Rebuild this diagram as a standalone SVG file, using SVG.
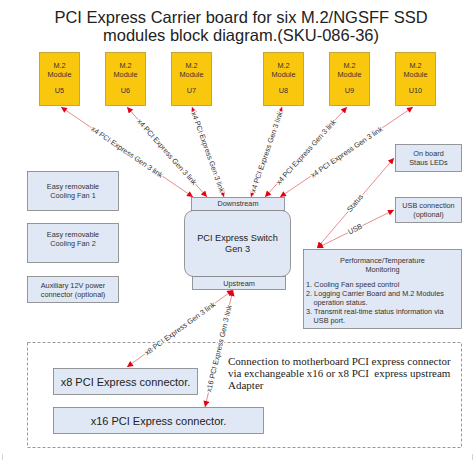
<svg xmlns="http://www.w3.org/2000/svg" width="474" height="460" viewBox="0 0 474 460">
<defs>
<style>
.t{font-family:"Liberation Sans",Arial,sans-serif;fill:#222;text-anchor:middle}
.m2{fill:#f9c80e;stroke:#b8962a;stroke-width:0.8}
.bx{fill:#e1e8f5;stroke:#7f7f7f;stroke-width:0.8}
.mt{font-size:7.3px;fill:#333}
.lk{stroke:#e07070;stroke-width:0.8;fill:none;marker-start:url(#ah);marker-end:url(#ah)}
.lb{font-family:"Liberation Sans",Arial,sans-serif;font-size:7.3px;fill:#333;text-anchor:middle;stroke:#fff;stroke-width:2.5;paint-order:stroke;stroke-linejoin:round}
</style>
<marker id="ah" viewBox="0 0 10 10" refX="10" refY="5" markerWidth="7" markerHeight="6" orient="auto-start-reverse" markerUnits="userSpaceOnUse">
<path d="M0,0 L10,5 L0,10 z" fill="#e3000f"/>
</marker>
</defs>
<rect width="474" height="460" fill="#fff"/>
<g id="title">
<text class="t" x="241" y="23" font-size="16.5">PCI Express Carrier board for six M.2/NGSFF SSD</text>
<text class="t" x="241" y="41" font-size="16.5">modules block diagram.(SKU-086-36)</text>
</g>
<g id="U5"><rect class="m2" x="39.5" y="52.5" width="40" height="53"/><text class="t mt" x="59.5" y="68">M.2</text><text class="t mt" x="59.5" y="77">Module</text><text class="t mt" x="59.5" y="93">U5</text></g>
<g id="U6"><rect class="m2" x="105.5" y="52.5" width="40" height="53"/><text class="t mt" x="125.5" y="68">M.2</text><text class="t mt" x="125.5" y="77">Module</text><text class="t mt" x="125.5" y="93">U6</text></g>
<g id="U7"><rect class="m2" x="171.5" y="52.5" width="40" height="53"/><text class="t mt" x="191.5" y="68">M.2</text><text class="t mt" x="191.5" y="77">Module</text><text class="t mt" x="191.5" y="93">U7</text></g>
<g id="U8"><rect class="m2" x="263.5" y="52.5" width="40" height="53"/><text class="t mt" x="283.5" y="68">M.2</text><text class="t mt" x="283.5" y="77">Module</text><text class="t mt" x="283.5" y="93">U8</text></g>
<g id="U9"><rect class="m2" x="329.5" y="52.5" width="40" height="53"/><text class="t mt" x="349.5" y="68">M.2</text><text class="t mt" x="349.5" y="77">Module</text><text class="t mt" x="349.5" y="93">U9</text></g>
<g id="U10"><rect class="m2" x="395.5" y="52.5" width="40" height="53"/><text class="t mt" x="415.5" y="68">M.2</text><text class="t mt" x="415.5" y="77">Module</text><text class="t mt" x="415.5" y="93">U10</text></g>
<g id="fan1"><rect class="bx" x="27.5" y="171.5" width="91" height="39"/><text class="t mt" x="73" y="189">Easy removable</text><text class="t mt" x="73" y="197.5">Cooling Fan 1</text></g>
<g id="fan2"><rect class="bx" x="27.5" y="223.5" width="91" height="39"/><text class="t mt" x="73" y="237">Easy removable</text><text class="t mt" x="73" y="245.5">Cooling Fan 2</text></g>
<g id="aux"><rect class="bx" x="27.5" y="276.5" width="91" height="26"/><text class="t mt" x="73" y="288">Auxiliary 12V power</text><text class="t mt" x="73" y="296.5">connector (optional)</text></g>
<g id="switch">
<rect class="bx" x="191.5" y="197.5" width="93" height="13"/>
<text class="t mt" x="238" y="206">Downstream</text>
<rect class="bx" x="192.5" y="276.5" width="93" height="13"/>
<text class="t mt" x="239" y="285.5">Upstream</text>
<rect class="bx" x="184.5" y="210.5" width="106" height="66" rx="9"/>
<text class="t" x="237.5" y="241" font-size="9.2">PCI Express Switch</text>
<text class="t" x="237.5" y="252" font-size="9.2">Gen 3</text>
</g>
<g id="leds"><rect class="bx" x="395.5" y="144.5" width="66" height="27"/><text class="t mt" x="428.5" y="156">On board</text><text class="t mt" x="428.5" y="164.5">Staus LEDs</text></g>
<g id="usb"><rect class="bx" x="395.5" y="197.5" width="66" height="25"/><text class="t mt" x="428.5" y="208">USB connection</text><text class="t mt" x="428.5" y="216.5">(optional)</text></g>
<g id="monitor">
<rect class="bx" x="303.5" y="249.5" width="158" height="79"/>
<text class="t mt" x="382.5" y="262.5">Performance/Temperature</text>
<text class="t mt" x="382.5" y="271.5">Monitoring</text>
<text class="t mt" x="306" y="286.5" style="text-anchor:start">1. Cooling Fan speed control</text>
<text class="t mt" x="306" y="295.5" style="text-anchor:start">2. Logging Carrier Board and M.2 Modules</text>
<text class="t mt" x="313.5" y="304.5" style="text-anchor:start">operation status.</text>
<text class="t mt" x="306" y="313.5" style="text-anchor:start">3. Transmit real-time status information via</text>
<text class="t mt" x="313.5" y="322.5" style="text-anchor:start">USB port.</text>
</g>
<g id="adapter">
<rect x="27.5" y="342.5" width="434" height="105" fill="none" stroke="#808080" stroke-width="0.8" stroke-dasharray="3,2"/>
<text x="228" y="365" font-family="'Liberation Serif','Times New Roman',serif" font-size="11" fill="#222">Connection to motherboard PCI express connector</text>
<text x="228" y="377" font-family="'Liberation Serif','Times New Roman',serif" font-size="11" fill="#222" xml:space="preserve">via exchangeable x16 or x8 PCI  express upstream</text>
<text x="228" y="389" font-family="'Liberation Serif','Times New Roman',serif" font-size="11" fill="#222">Adapter</text>
</g>
<g id="x8"><rect class="bx" x="53.5" y="368.5" width="144" height="26"/><text class="t" x="125.5" y="385.5" font-size="11">x8 PCI Express connector.</text></g>
<g id="x16"><rect class="bx" x="53.5" y="407.5" width="210" height="26"/><text class="t" x="158.5" y="424.5" font-size="11">x16 PCI Express connector.</text></g>
<g id="connectors">
<line class="lk" x1="61" y1="107" x2="193" y2="197"/>
<line class="lk" x1="127" y1="107" x2="207" y2="197"/>
<line class="lk" x1="192" y1="107" x2="224" y2="197"/>
<line class="lk" x1="282" y1="107" x2="251" y2="197"/>
<line class="lk" x1="347" y1="107" x2="265" y2="197"/>
<line class="lk" x1="413" y1="107" x2="280" y2="197"/>
<line class="lk" x1="233" y1="290" x2="127" y2="367"/>
<line class="lk" x1="233" y1="290" x2="205" y2="407"/>
<line class="lk" x1="317" y1="248" x2="394" y2="158"/>
<line class="lk" x1="317" y1="248" x2="394" y2="210"/>
<text class="lb" transform="translate(127,152) rotate(34.3)" y="2.5">x4 PCI Express Gen 3 link</text>
<text class="lb" transform="translate(167,152) rotate(48.4)" y="2.5">x4 PCI Express Gen 3 link</text>
<text class="lb" transform="translate(208,152) rotate(70.4)" y="2.5">x4 PCI Express Gen 3 link</text>
<text class="lb" transform="translate(266.5,152) rotate(-71)" y="2.5">x4 PCI Express Gen 3 link</text>
<text class="lb" transform="translate(306,152) rotate(-47.7)" y="2.5">x4 PCI Express Gen 3 link</text>
<text class="lb" transform="translate(346.5,152) rotate(-34.1)" y="2.5">x4 PCI Express Gen 3 link</text>
<text class="lb" transform="translate(180,328.5) rotate(-36)" y="2.5">x8 PCI Express Gen 3 link</text>
<text class="lb" transform="translate(219,348.5) rotate(-76.5)" y="2.5">x16 PCI Express Gen 3 link</text>
<text class="lb" transform="translate(355,203) rotate(-49.8)" y="2.5">Status</text>
<text class="lb" transform="translate(355,229) rotate(-26.6)" y="2.5">USB</text>
</g>
<g id="edges" stroke="#c8c8c8" stroke-width="0.8">
<line x1="2.5" y1="454" x2="2.5" y2="460"/>
<line x1="472.5" y1="454" x2="472.5" y2="460"/>
</g>
</svg>
